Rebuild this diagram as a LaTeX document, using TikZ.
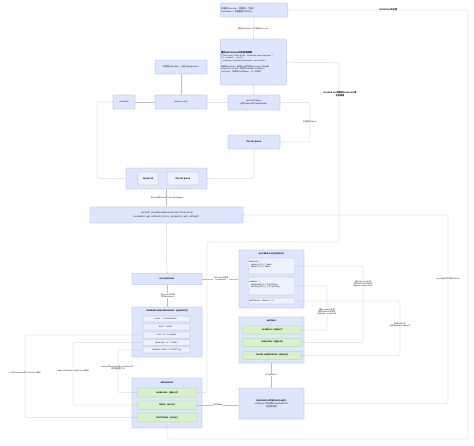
\documentclass[tikz,border=0pt]{standalone}
\usepackage{fontspec}
\setmainfont{Noto Sans CJK SC}
\usetikzlibrary{arrows.meta}

\definecolor{boxfill}{RGB}{221,230,252}
\definecolor{boxline}{RGB}{142,166,230}
\definecolor{rowfill}{RGB}{238,242,254}
\definecolor{greenfill}{RGB}{216,241,203}
\definecolor{greenline}{RGB}{150,208,128}
\definecolor{linegray}{RGB}{190,190,190}
\definecolor{textc}{RGB}{30,32,48}

\tikzset{
  box/.style={draw=boxline, fill=boxfill, rounded corners=1.2pt, line width=0.4pt,
    text=textc, font=\fontsize{4.2}{5.2}\selectfont, align=center, inner sep=0.8pt},
  rowbox/.style={box, fill=rowfill},
  greenbox/.style={box, draw=greenline, fill=greenfill, font=\fontsize{4.5}{5.2}\selectfont\bfseries},
  boxtitle/.style={text=textc, font=\fontsize{4.7}{5.2}\selectfont\bfseries, inner sep=0.5pt},
  link/.style={draw=linegray, line width=0.5pt, rounded corners=3pt,
    -{Stealth[length=2.4pt,width=2pt]}},
  tag/.style={fill=white, text=textc, inner sep=0.6pt, align=center,
    font=\fontsize{3.8}{4.6}\selectfont},
  bigtag/.style={tag, font=\fontsize{4.4}{5.2}\selectfont\bfseries},
}

\begin{document}
\begin{tikzpicture}[x=0.7mm,y=-0.7mm]
\useasboundingbox[fill=white] (0,0) rectangle (474,445);
%
% --- marked() call chain ---
\node[box, text width=46mm, align=left, minimum height=9.8mm] (topnote) at (254,10)
  {如果有Extension，就需要一个新的\\walkTokens，并覆盖默认的方法};
\node[box, text width=45.3mm, align=left, minimum height=32.2mm, font=\fontsize{3.9}{4.9}\selectfont] (extrule) at (253.5,62)
  {{\fontsize{4.6}{5.4}\selectfont\bfseries 遍历extensions时的处理规则}\\
   if (!ext.name) throw Error('extension name required')\\
   if ('renderer' in ext) \{\\
   \ \ \ extensions.renderers[ext.name] = ext.renderer\\
   \}\\[2pt]
   如果有tokenizer，根据level添加到extensions.block或\\
   extensions.inline中，同时将start加入startBlock /\\
   startInline。如果有childTokens，也一并保存};
\node[box, minimum width=36.4mm, minimum height=9.8mm] (hooknote) at (181,67) {如果有opt.hooks，先执行preprocess};
\node[box, minimum width=15.4mm, minimum height=9.8mm] (markedfn) at (124,102) {marked()};
\node[box, minimum width=36.4mm, minimum height=9.8mm] (lexerfn) at (181,102) {lexer(src, opt)};
\node[box, minimum width=36.4mm, minimum height=10.5mm] (walkbox) at (254,102.5) {opt.walkTokens\\遍历tokens执行walkTokens};
\node[box, minimum width=36.4mm, minimum height=9.8mm, font=\fontsize{4.6}{5.2}\selectfont\bfseries] (parserbox) at (254,142) {Parser parse};
%
\node[box, minimum width=56.7mm, minimum height=14.7mm] (group) at (166.5,178.5) {};
\node[rowbox, minimum width=14mm, minimum height=9.1mm, font=\fontsize{4.6}{5.2}\selectfont\bfseries] (lexbox) at (148,178.5) {Lexer lex};
\node[rowbox, minimum width=22.4mm, minimum height=9.1mm, font=\fontsize{4.6}{5.2}\selectfont\bfseries] (parsebox) at (183,178.5) {Parser parse};
\node[box, minimum width=107.1mm, minimum height=11.2mm, font=\fontsize{4.5}{7}\selectfont] (wide) at (166.5,215)
  {\_marked = parseMarkdown(Lexer.lex, Parser.parse)\\
   marked(src, opt, callback) \{ return \_marked(src, opt, callback) \}};
%
\draw[link] (topnote) -- (extrule);
\node[tag] (lbltop) at (253,29) {使用walkTokens方式处理extension};
\draw[link] (extrule) -- (walkbox);
\draw[link] (hooknote) -- (lexerfn);
\draw[link] (markedfn) -- (lexerfn);
\draw[link] (lexerfn) -- (walkbox);
\draw[link] (walkbox.east) -| (310,142) -- (parserbox.east);
\node[tag] (lblwalk) at (310,122) {处理后的tokens};
\draw[link] (group.west) -| (97,102) -- (markedfn.west);
\draw[link] (parserbox.south) |- (group.east);
\draw[link] (group) -- (wide);
\node[tag] (lblgroup) at (167,198) {将Lexer和Parser传入parseMarkdown};
%
% --- marked.use ---
\node[box, minimum width=49mm, minimum height=7.7mm, font=\fontsize{4.6}{5.2}\selectfont\bfseries] (usebox) at (167,279) {use(options)};
\node[box, minimum width=49mm, minimum height=35mm] (useext) at (167,332) {};
\node[boxtitle] (useexttitle) at (167,310.5) {marked.use(extensions: [options])};
\node[rowbox, minimum width=32.9mm, minimum height=4.2mm] (extname) at (166.5,319) {name: 'customName'};
\node[rowbox, minimum width=32.9mm, minimum height=4.2mm] (extlevel) at (166.5,327) {level: 'block'};
\node[rowbox, minimum width=32.9mm, minimum height=4.2mm] (extstart) at (166.5,335) {start: src => number};
\node[rowbox, minimum width=32.9mm, minimum height=4.2mm] (exttok) at (166.5,342.5) {tokenizer: src => token};
\node[rowbox, minimum width=32.9mm, minimum height=4.2mm] (extrend) at (166.5,350) {renderer: token => htmlString};
%
\node[box, minimum width=49mm, minimum height=35mm] (extensions) at (167,403) {};
\node[boxtitle] (extensionstitle) at (167,383) {extensions};
\node[greenbox, minimum width=42mm, minimum height=6.3mm] (renderers) at (167,392.5) {renderers: [object]};
\node[greenbox, minimum width=42mm, minimum height=5.8mm] (inline) at (167,405) {inline: [array]};
\node[greenbox, minimum width=42mm, minimum height=6.3mm] (startinl) at (167,417.5) {startInline: [array]};
%
\node[box, minimum width=45.5mm, minimum height=40.6mm] (useopt) at (271.5,279) {};
\node[boxtitle] (useopttitle) at (271.5,253.5) {marked.use(options)};
\node[rowbox, text width=31.8mm, align=left, minimum height=11.2mm] (tokin) at (271.5,266)
  {tokenizer: \{\\ \ \ \ space(src) \{\} // token\\ \ \ \ code(src) \{\} // token\\ \}};
\node[rowbox, text width=31.8mm, align=left, minimum height=12.6mm] (rendin) at (271.5,286)
  {renderer: \{\\ \ \ \ code(code) \{\} // htmlString\\ \ \ \ heading(text) \{\} // htmlString\\ \}};
\node[rowbox, text width=31.8mm, align=left, minimum height=4.2mm] (walkin) at (271.5,301) {walkTokens: (token) => \{\}};
%
\node[box, minimum width=45.5mm, minimum height=32.2mm] (options) at (271.5,340) {};
\node[boxtitle] (optionstitle) at (271.5,321) {options};
\node[greenbox, minimum width=41.3mm, minimum height=5.6mm] (optrend) at (272.2,330) {renderer: [object]};
\node[greenbox, minimum width=41.3mm, minimum height=5.6mm] (opttok) at (272.2,342.2) {tokenizer: [object]};
\node[greenbox, minimum width=41.3mm, minimum height=5.6mm] (opthook) at (272.2,355.2) {hooks,walkTokens: [object]};
%
\node[box, minimum width=45.5mm, minimum height=21.7mm, font=\fontsize{4.3}{5.4}\selectfont] (setopt) at (271.5,403.5)
  {{\fontsize{4.7}{5.4}\selectfont\bfseries marked.setOptions(opts)}\\setOptions会设置marked.defaults\\后续会使用};
%
\draw[link] (wide) -- (usebox);
\draw[link] (usebox) -- (useext);
\node[tag] (lbluseext) at (168,295.5) {在marked中调用\\添加extensions};
\draw[link] (usebox) -- (useopt);
\node[tag] (lbluseopt) at (221,279) {在marked中调用\\use(options)};
\draw[link] (extstart.west) -| (25,417.5) -- (startinl.west);
\node[tag] (lblstart) at (25,373) {start的extension放入startInline数组};
\draw[link] (exttok.west) -| (73,405) -- (inline.west);
\node[tag] (lbltok) at (73,371) {tokenizer的extension放入inline数组};
\draw[link] (extrend.west) -| (118,392.5) -- (renderers.west);
\node[tag] (lblrend) at (118,368) {renderer的extension放入renderers中，\\即可覆盖原方法};
\draw[link] (renderers.east) -| (207,242) -| (339,63) -- (extrule.east);
\node[bigtag] (lbluse) at (340,94) {marked.use配置的Extension等\\全部使用};
\draw[link] (startinl.south) |- (468,439) |- (topnote.east);
\node[bigtag] (lblstartinl) at (388,10) {startInline的设置};
\draw[link] (inline) -- (setopt.west |- inline);
\node[tag] (lblinline) at (218,405) {合并到opts};
\draw[link] (tokin.east) -| (363,342.2) -- (opttok.east);
\node[tag] (lbltokin) at (363,284) {遍历tokenizer生成\\新的tokenizer并合并\\到options.tokenizer中};
\draw[link] (rendin.east) -| (327,330) -- (optrend.east);
\node[tag] (lblrendin) at (327,312) {遍历renderer生成\\新的renderer并合并\\到options.renderer中};
\draw[link] (walkin.east) -| (400,355.2) -- (opthook.east);
\node[tag] (lblwalkin) at (400,325) {新建hooks并\\合并到options.hooks中};
\draw[link] (options) -- (setopt);
\node[tag] (lblopts) at (271.5,375) {作为opts传入};
\draw[link] (setopt.east) -| (448,215) -- (wide.east);
\node[tag] (lbldefaults) at (448,279) {marked执行时读取defaults};
%
\end{tikzpicture}
\end{document}
